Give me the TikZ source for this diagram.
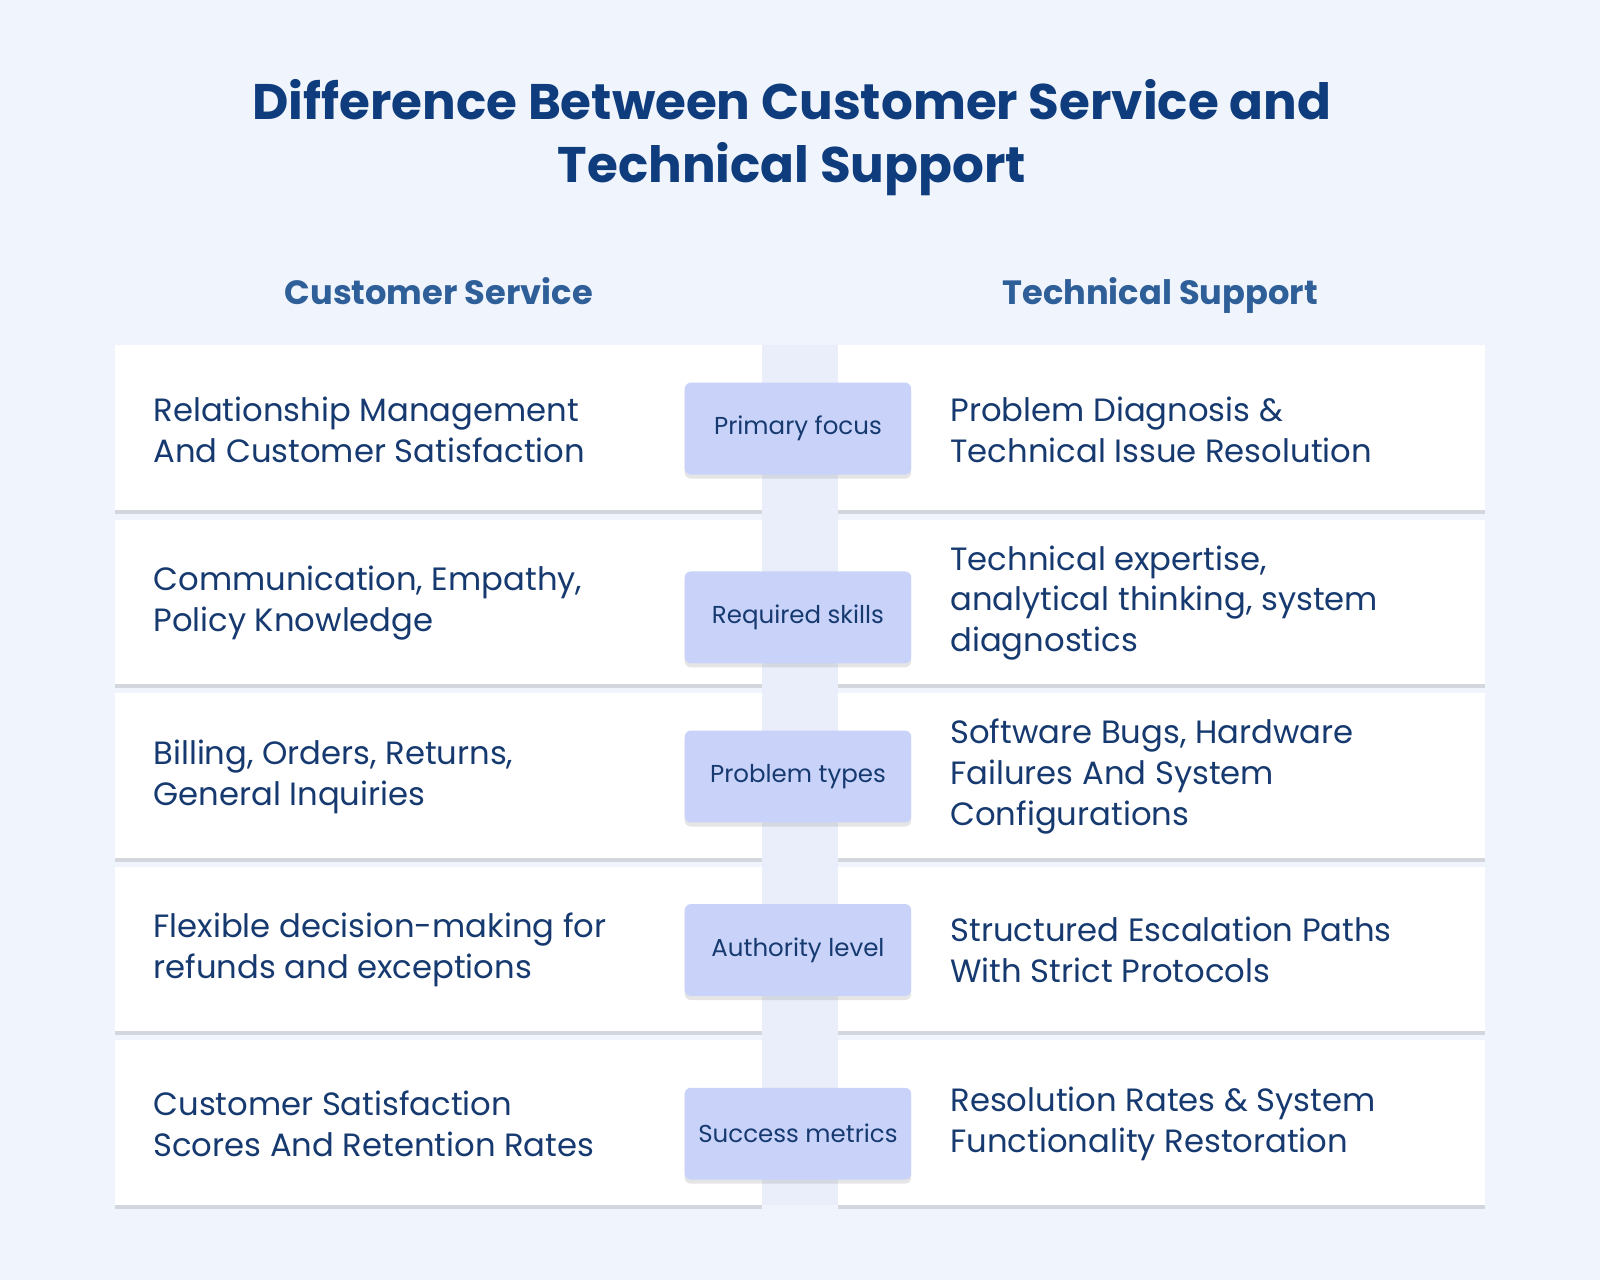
\documentclass[tikz,border=0pt]{standalone}
\usepackage{fontspec}
\setmainfont{Poppins}
\usetikzlibrary{shadows}
\definecolor{bgc}{HTML}{F0F4FC}
\definecolor{stripc}{HTML}{E9EEFA}
\definecolor{titlec}{HTML}{0E3C7C}
\definecolor{headc}{HTML}{2F5F98}
\definecolor{textc}{HTML}{163A70}
\definecolor{labc}{HTML}{C9D3FA}
\begin{document}
\begin{tikzpicture}[x=0.5pt, y=-0.5pt,
	card/.style = {fill=white, minimum width=317pt, minimum height=80.5pt, inner sep=0pt,
		drop shadow={shadow xshift=0pt, shadow yshift=-2pt, opacity=0.25}},
	ctext/.style = {anchor=west, align=left, inner sep=0pt, text=textc, font=\fontsize{15.8}{20}\selectfont},
	lab/.style = {fill=labc, rounded corners=3pt, minimum width=111pt, minimum height=45pt,
		text=textc, font=\fontsize{12}{14}\selectfont,
		drop shadow={shadow xshift=0pt, shadow yshift=-2pt, opacity=0.2}},
	head/.style = {text=headc, font=\bfseries\fontsize{16.5}{20}\selectfont}]
	\fill[bgc] (0,0) rectangle (1568,1254);
	\fill[stripc] (747,338) rectangle (821,1181);
	\node[text=titlec, align=center, font=\bfseries\fontsize{24.5}{31}\selectfont] (title) at (776,135)
		{Difference Between Customer Service and\\Technical Support};
	\node[head, anchor=base] (hcs) at (430,298) {Customer Service};
	\node[head, anchor=base] (hts) at (1137,298) {Technical Support};
	% rows
	\node[card] (l1) at (430,419) {};
	\node[card] (r1) at (1138,419) {};
	\node[card] (l2) at (430,590) {};
	\node[card] (r2) at (1138,590) {};
	\node[card] (l3) at (430,760) {};
	\node[card] (r3) at (1138,760) {};
	\node[card] (l4) at (430,930) {};
	\node[card] (r4) at (1138,930) {};
	\node[card] (l5) at (430,1100) {};
	\node[card] (r5) at (1138,1100) {};
	% texts
	\node[ctext] (lt1) at (150,421) {Relationship Management\\And Customer Satisfaction};
	\node[ctext] (rt1) at (931,421) {Problem Diagnosis \&\\Technical Issue Resolution};
	\node[ctext] (lt2) at (150,591) {Communication, Empathy,\\Policy Knowledge};
	\node[ctext] (rt2) at (931,591) {Technical expertise,\\analytical thinking, system\\diagnostics};
	\node[ctext] (lt3) at (150,761) {Billing, Orders, Returns,\\General Inquiries};
	\node[ctext] (rt3) at (931,761) {Software Bugs, Hardware\\Failures And System\\Configurations};
	\node[ctext] (lt4) at (150,931) {Flexible decision-making for\\refunds and exceptions};
	\node[ctext] (rt4) at (931,931) {Structured Escalation Paths\\With Strict Protocols};
	\node[ctext] (lt5) at (150,1101) {Customer Satisfaction\\Scores And Retention Rates};
	\node[ctext] (rt5) at (931,1101) {Resolution Rates \& System\\Functionality Restoration};
	% labels
	\node[lab] (k1) at (782,420) {Primary focus};
	\node[lab] (k2) at (782,605) {Required skills};
	\node[lab] (k3) at (782,761) {Problem types};
	\node[lab] (k4) at (782,931) {Authority level};
	\node[lab] (k5) at (782,1111) {Success metrics};
\end{tikzpicture}
\end{document}
